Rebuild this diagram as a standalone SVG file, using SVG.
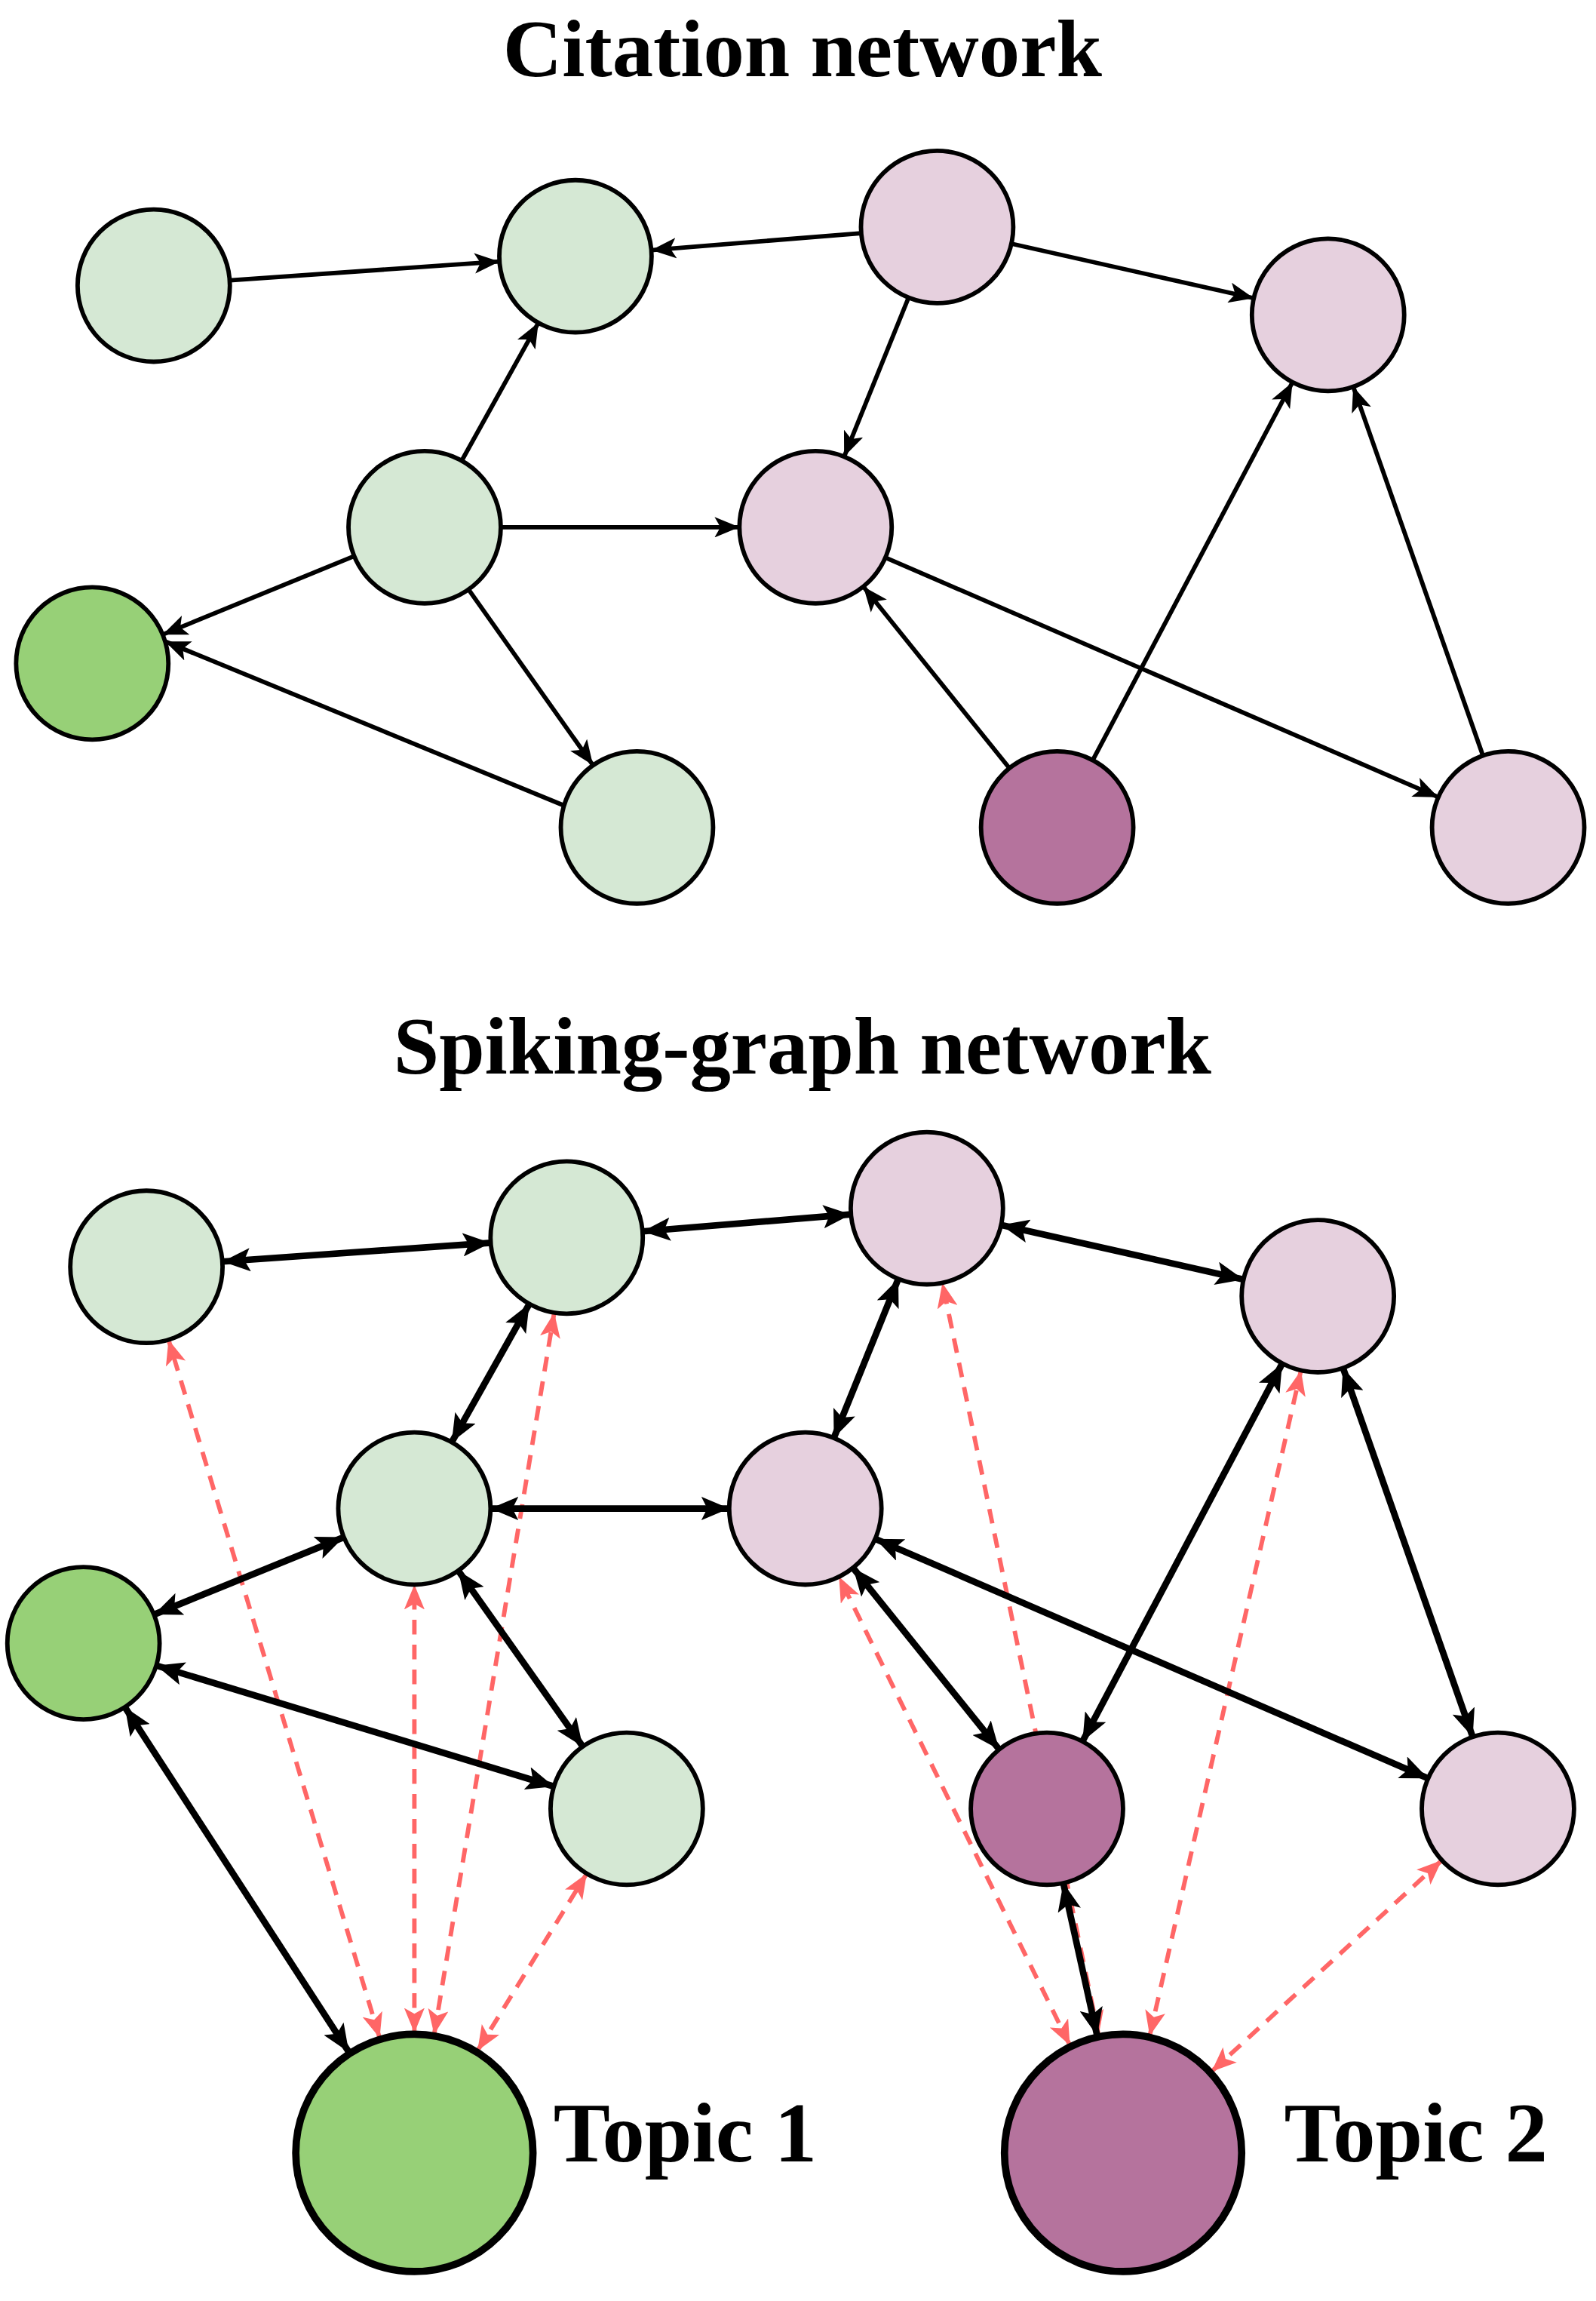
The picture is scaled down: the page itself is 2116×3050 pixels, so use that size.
<svg xmlns="http://www.w3.org/2000/svg" width="2116" height="3050" viewBox="0 0 2116 3050">
<defs>
<style>
.t{font-family:"Liberation Serif","Times New Roman",serif;font-weight:bold;fill:#000}
.n{stroke:#000;stroke-width:3}
.lg{fill:#d5e8d4}.g{fill:#97d077}.pk{fill:#e6d0de}.pu{fill:#b5739d}
.e1{stroke:#000;stroke-width:3;fill:none;marker-end:url(#ab)}
.e2{stroke:#000;stroke-width:4.5;fill:none;marker-end:url(#ab2);marker-start:url(#ab2)}
.r{stroke:#ff6666;stroke-width:3;stroke-dasharray:10,7;fill:none;marker-end:url(#ar);marker-start:url(#ar)}
</style>
<marker id="ab" markerUnits="userSpaceOnUse" markerWidth="18" markerHeight="14" refX="17" refY="7" orient="auto-start-reverse" viewBox="0 0 18 14"><path d="M0,0 L17,7 L0,14 L4,7 z" fill="#000"/></marker>
<marker id="ab2" markerUnits="userSpaceOnUse" markerWidth="20" markerHeight="16" refX="19" refY="8" orient="auto-start-reverse" viewBox="0 0 20 16"><path d="M0,0 L19,8 L0,16 L4,8 z" fill="#000"/></marker>
<marker id="ar" markerUnits="userSpaceOnUse" markerWidth="18" markerHeight="14" refX="17" refY="7" orient="auto-start-reverse" viewBox="0 0 18 14"><path d="M0,0 L17,7 L0,14 L4,7 z" fill="#ff6666"/></marker>
</defs>
<rect width="2116" height="3050" fill="#fff"/>
<g transform="scale(1.9413)">
<text class="t" x="548" y="52" font-size="56" text-anchor="middle">Citation network</text>
<text class="t" x="548" y="733" font-size="56" text-anchor="middle">Spiking-graph network</text>
<g id="connectors">
<line class="e1" x1="156.9" y1="191.4" x2="341.1" y2="178.6"/>
<line class="e1" x1="588.2" y1="159.2" x2="444.8" y2="170.8"/>
<line class="e1" x1="690.7" y1="166.4" x2="856.3" y2="203.6"/>
<line class="e1" x1="620.5" y1="203.2" x2="576.5" y2="311.8"/>
<line class="e1" x1="315.3" y1="314.6" x2="367.7" y2="220.4"/>
<line class="e1" x1="342" y1="360" x2="505" y2="360"/>
<line class="e1" x1="241.9" y1="379.7" x2="111.1" y2="433.3"/>
<line class="e1" x1="320" y1="402.5" x2="405" y2="522.5"/>
<line class="e1" x1="385.2" y1="550" x2="112.8" y2="438"/>
<line class="e1" x1="689.4" y1="524.5" x2="589.6" y2="400.5"/>
<line class="e1" x1="746.3" y1="519" x2="882.7" y2="261"/>
<line class="e1" x1="1012.8" y1="516" x2="924.2" y2="264"/>
<line class="e1" x1="604.7" y1="380.7" x2="982.3" y2="544.3"/>

<line class="r" x1="259.3" y1="1391.5" x2="115.1" y2="914.8"/>
<line class="r" x1="296.5" y1="1389.1" x2="378.5" y2="896.3"/>
<line class="r" x1="283" y1="1388" x2="283" y2="1082"/>
<line class="r" x1="326.1" y1="1400.2" x2="400.7" y2="1279.3"/>
<line class="r" x1="750.3" y1="1389.7" x2="643.6" y2="875.9"/>
<line class="r" x1="785.2" y1="1390" x2="888.5" y2="935.7"/>
<line class="r" x1="730.7" y1="1396.5" x2="573" y2="1076.6"/>
<line class="r" x1="827.4" y1="1414.5" x2="984.7" y2="1270.2"/>

<line class="e2" x1="151.9" y1="861.4" x2="335.1" y2="848.6"/>
<line class="e2" x1="438.8" y1="840.8" x2="581.2" y2="829.2"/>
<line class="e2" x1="683.7" y1="836.4" x2="849.3" y2="873.6"/>
<line class="e2" x1="361.5" y1="890.3" x2="308.5" y2="984.7"/>
<line class="e2" x1="613.5" y1="873.2" x2="569.5" y2="981.8"/>
<line class="e2" x1="335" y1="1030" x2="498" y2="1030"/>
<line class="e2" x1="234.8" y1="1049.6" x2="105.2" y2="1102.4"/>
<line class="e2" x1="313" y1="1072.5" x2="398" y2="1192.5"/>
<line class="e2" x1="106.7" y1="1137.2" x2="378.3" y2="1219.8"/>
<line class="e2" x1="85.3" y1="1165.6" x2="238.3" y2="1401.2"/>
<line class="e2" x1="582.6" y1="1070.5" x2="682.4" y2="1194.5"/>
<line class="e2" x1="597.7" y1="1050.7" x2="975.3" y2="1214.3"/>
<line class="e2" x1="875.7" y1="931" x2="739.3" y2="1189"/>
<line class="e2" x1="917.2" y1="934" x2="1005.8" y2="1186"/>
<line class="e2" x1="726.2" y1="1285.8" x2="749.3" y2="1390"/>
</g>
<g id="A"><circle class="n lg" cx="105" cy="195" r="52"/></g>
<g id="B"><circle class="n lg" cx="393" cy="175" r="52"/></g>
<g id="C"><circle class="n pk" cx="640" cy="155" r="52"/></g>
<g id="D"><circle class="n pk" cx="907" cy="215" r="52"/></g>
<g id="E"><circle class="n lg" cx="290" cy="360" r="52"/></g>
<g id="F"><circle class="n pk" cx="557" cy="360" r="52"/></g>
<g id="G"><circle class="n g" cx="63" cy="453" r="52"/></g>
<g id="H"><circle class="n lg" cx="435" cy="565" r="52"/></g>
<g id="I"><circle class="n pu" cx="722" cy="565" r="52"/></g>
<g id="J"><circle class="n pk" cx="1030" cy="565" r="52"/></g>

<g id="a"><circle class="n lg" cx="100" cy="865" r="52"/></g>
<g id="b"><circle class="n lg" cx="387" cy="845" r="52"/></g>
<g id="c"><circle class="n pk" cx="633" cy="825" r="52"/></g>
<g id="d"><circle class="n pk" cx="900" cy="885" r="52"/></g>
<g id="e"><circle class="n lg" cx="283" cy="1030" r="52"/></g>
<g id="f"><circle class="n pk" cx="550" cy="1030" r="52"/></g>
<g id="g"><circle class="n g" cx="57" cy="1122" r="52"/></g>
<g id="h"><circle class="n lg" cx="428" cy="1235" r="52"/></g>
<g id="i"><circle class="n pu" cx="715" cy="1235" r="52"/></g>
<g id="j"><circle class="n pk" cx="1023" cy="1235" r="52"/></g>
<g id="topic1"><circle class="g" cx="283" cy="1470" r="81" stroke="#000" stroke-width="5"/><text class="t" x="378" y="1476" font-size="58">Topic 1</text></g>
<g id="topic2"><circle class="pu" cx="767" cy="1470" r="81" stroke="#000" stroke-width="5"/><text class="t" x="877" y="1476" font-size="58">Topic 2</text></g>
</g>
</svg>
